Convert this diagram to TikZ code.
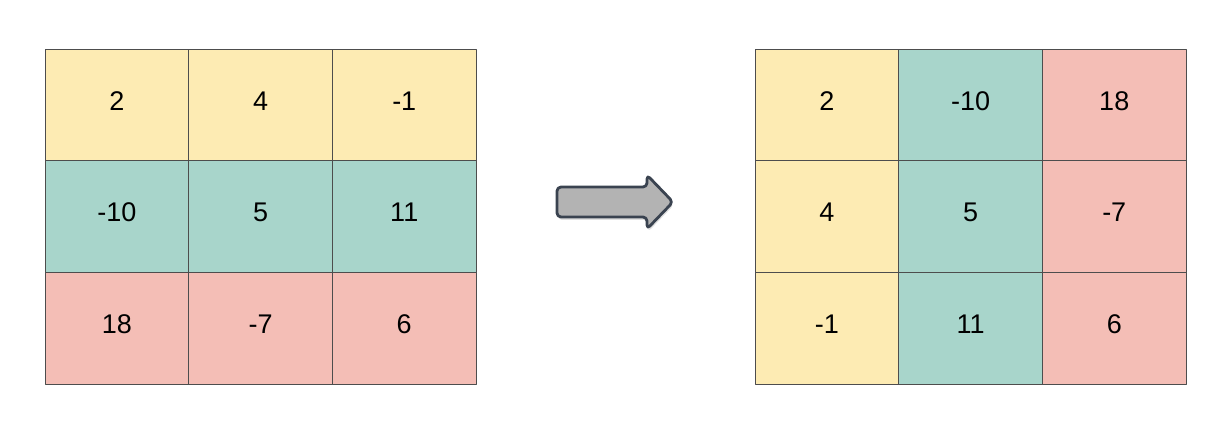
\documentclass[tikz,border=0pt]{standalone}
\usepackage{fontspec}
\setmainfont{Liberation Sans}
\definecolor{cellyellow}{HTML}{FDEBB3}
\definecolor{cellteal}{HTML}{A8D5CB}
\definecolor{cellred}{HTML}{F4BEB6}
\definecolor{gridgray}{HTML}{4D4D4D}
\definecolor{arrowfill}{HTML}{B3B3B3}
\definecolor{arrowline}{HTML}{3A4350}
\begin{document}
\begin{tikzpicture}[x=1pt, y=-1pt, font=\fontsize{27}{32}\selectfont, line join=round, line cap=round,
  cell/.style={draw=gridgray, line width=0.9pt, minimum width=143.7pt, minimum height=111.7pt, inner sep=0pt, outer sep=0pt, text depth=8pt}]
\useasboundingbox (0,0) rectangle (1232,446);
% left grid, rows coloured
\foreach \r/\col/\a/\b/\c in {1/cellyellow/2/4/-1, 2/cellteal/-10/5/11, 3/cellred/18/-7/6}{
  \node[cell, fill=\col] (L\r1) at ({45+143.7*0.5}, {49+111.7*(\r-0.5)}) {\a};
  \node[cell, fill=\col] (L\r2) at ({45+143.7*1.5}, {49+111.7*(\r-0.5)}) {\b};
  \node[cell, fill=\col] (L\r3) at ({45+143.7*2.5}, {49+111.7*(\r-0.5)}) {\c};
}
% right grid, columns coloured
\foreach \k/\col/\a/\b/\c in {1/cellyellow/2/4/-1, 2/cellteal/-10/5/11, 3/cellred/18/-7/6}{
  \node[cell, fill=\col] (R1\k) at ({755+143.7*(\k-0.5)}, {49+111.7*0.5}) {\a};
  \node[cell, fill=\col] (R2\k) at ({755+143.7*(\k-0.5)}, {49+111.7*1.5}) {\b};
  \node[cell, fill=\col] (R3\k) at ({755+143.7*(\k-0.5)}, {49+111.7*2.5}) {\c};
}
% arrow
\fill[black!12, rounded corners=4pt, shift={(1,3)}]
  (557,187) -- (647,187) -- (647,175) -- (673,202) -- (647,229) -- (647,217) -- (557,217) -- cycle;
\draw[fill=arrowfill, draw=arrowline, line width=2.8pt, rounded corners=4pt]
  (557,187) -- (647,187) -- (647,175) -- (673,202) -- (647,229) -- (647,217) -- (557,217) -- cycle;
\end{tikzpicture}
\end{document}
